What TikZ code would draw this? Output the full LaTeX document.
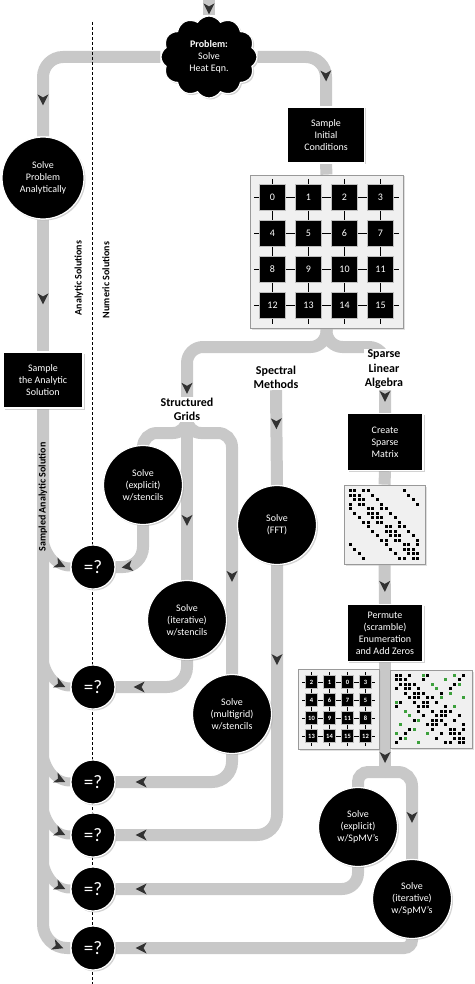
\documentclass[tikz,border=0pt]{standalone}
\usepackage{fontspec}
\setmainfont{Carlito}
\usetikzlibrary{shapes.symbols,shadows,backgrounds,decorations.markings}
\definecolor{bandgray}{RGB}{200,200,200}
\definecolor{tipgray}{RGB}{50,50,50}
\definecolor{panelgray}{RGB}{240,240,240}
\definecolor{dotgreen}{RGB}{60,160,60}
\tikzset{
  band/.style={draw=bandgray, line width=12pt},
  branch/.style={draw=bandgray, line width=9pt},
  arrowat/.style={postaction={decorate,decoration={markings,
      mark=at position #1 with {\fill[tipgray, sharp corners] (-6pt,5.5pt) -- (5pt,0pt) -- (-6pt,-5.5pt) -- (-3pt,0pt) -- cycle;}}}},
  blk/.style={fill=black, draw=white, line width=1.2pt, text=white, align=center,
      font=\fontsize{10}{12}\selectfont, inner sep=0pt,
      drop shadow={shadow xshift=1.5pt, shadow yshift=-1.5pt, fill=black!35}},
  box/.style={blk, rectangle, minimum width=77pt, minimum height=56pt},
  solve/.style={blk, circle, minimum size=79pt},
  check/.style={blk, circle, minimum size=44pt, font=\fontsize{19}{20}\selectfont},
  lbl/.style={fill=white, align=center, inner sep=1pt, font=\fontsize{12}{14.5}\selectfont\bfseries},
  panel/.style={rectangle, fill=panelgray, draw=black!40, line width=0.8pt, inner sep=0pt,
      drop shadow={shadow xshift=1.5pt, shadow yshift=-1.5pt, fill=black!25}},
  cell/.style={rectangle, fill=black, draw=black!25, line width=0.6pt, text=white, inner sep=0pt}
}
% sparsity pattern of the periodic 4x4 stencil, rows/cols renumbered by #4
\newcommand{\spdots}[4]{%
  \foreach \a in {0,...,15}{
    \foreach \b in {0,...,15}{
      \pgfmathtruncatemacro\ia{{#4}[\a]}
      \pgfmathtruncatemacro\ib{{#4}[\b]}
      \pgfmathtruncatemacro\dr{mod(div(\ia,4)-div(\ib,4)+4,4)}
      \pgfmathtruncatemacro\dc{mod(mod(\ia,4)-mod(\ib,4)+4,4)}
      \pgfmathtruncatemacro\nz{((\dr==0)&&(\dc!=2))||((\dc==0)&&(\dr!=2))}
      \ifnum\nz=1 \fill (#1+#3*\b,#2+#3*\a) rectangle ++(#3*0.75,#3*0.75); \fi
    }}}
\begin{document}
\begin{tikzpicture}[x=1pt,y=-1pt]
\useasboundingbox (0,0) rectangle (474,984);

% problem and the analytic side
\node[blk, cloud, cloud puffs=12, cloud puff arc=115, aspect=1.1,
  minimum width=96pt, minimum height=82pt] (prob) at (209,57) {\textbf{Problem:}\\Solve\\Heat Eqn.};
\node[solve, minimum size=82pt] (ana) at (43,178) {Solve\\Problem\\Analytically};
\node[box, minimum width=80pt] (sas) at (43,380) {Sample\\the Analytic\\Solution};
\node[rotate=90, font=\fontsize{10}{12}\selectfont\bfseries] (sasl) at (43,497) {Sampled Analytic Solution};
\node[rotate=90, font=\fontsize{10}{12}\selectfont\bfseries] (anal) at (79,278) {Analytic Solutions};
\node[rotate=90, font=\fontsize{10}{12}\selectfont\bfseries] (numl) at (106,280) {Numeric Solutions};

% initial conditions on the grid
\node[box] (sic) at (326,135) {Sample\\Initial\\Conditions};
\node[panel, minimum size=153pt] (gp) at (326.5,251.5) {};
\foreach \i in {0,...,3}{
  \draw[line width=1.2pt] (254,197.5+36*\i) -- (399,197.5+36*\i);
  \draw[line width=1.2pt] (272.5+36*\i,179) -- (272.5+36*\i,324);
}
\foreach \n in {0,...,15}{
  \pgfmathtruncatemacro\row{div(\n,4)}
  \pgfmathtruncatemacro\col{mod(\n,4)}
  \node[cell, minimum size=26pt, font=\fontsize{10}{12}\selectfont] (c\n) at (272.5+36*\col,197.5+36*\row) {\n};
}

% three families of methods
\node[lbl] (sg) at (187,409.5) {Structured\\Grids};
\node[lbl] (sm) at (276,377.5) {Spectral\\Methods};
\node[lbl] (sla) at (384,369.5) {Sparse\\Linear\\Algebra};
\node[solve] (ex) at (143,485) {Solve\\(explicit)\\w/stencils};
\node[solve] (it) at (187,620) {Solve\\(iterative)\\w/stencils};
\node[solve] (mg) at (232,714) {Solve\\(multigrid)\\w/stencils};
\node[solve] (fft) at (277,525) {Solve\\(FFT)};

% sparse matrix branch
\node[box, minimum width=76pt, minimum height=57pt] (csm) at (385,442) {Create\\Sparse\\Matrix};
\node[panel, minimum width=81pt, minimum height=79pt] (spm) at (384.5,524.5) {};
\spdots{348.5}{489}{4.5}{0,1,2,3,4,5,6,7,8,9,10,11,12,13,14,15}
\node[box, minimum width=76pt, minimum height=57pt] (pez) at (385,633) {Permute\\(scramble)\\Enumeration\\and Add Zeros};
\node[panel, minimum width=81pt, minimum height=80pt] (pg) at (338.5,709) {};
\foreach \i in {0,...,3}{
  \draw[line width=0.8pt] (302,682+18*\i) -- (375,682+18*\i);
  \draw[line width=0.8pt] (311.5+18*\i,672) -- (311.5+18*\i,746);
}
\foreach \lab [count=\k from 0] in {2,1,0,3,4,6,7,5,10,9,11,8,13,14,15,12}{
  \pgfmathtruncatemacro\row{div(\k,4)}
  \pgfmathtruncatemacro\col{mod(\k,4)}
  \node[cell, minimum size=12.5pt, font=\fontsize{6.5}{7}\selectfont\bfseries] (p\k) at (311.5+18*\col,682+18*\row) {\lab};
}
\node[panel, minimum width=82pt, minimum height=78pt] (pspm) at (431,709) {};
\spdots{394.5}{673.5}{4.5}{2,1,0,3,4,7,5,6,11,9,8,10,15,12,13,14}
\foreach \a/\b in {0/6,6/0,1/11,11/1,2/14,14/2,3/9,9/3,4/12,12/4,5/15,15/5,7/13,13/7,8/2,2/8,10/5,5/10,0/13,13/0}
  \fill[dotgreen] (394.5+4.5*\b,673.5+4.5*\a) rectangle ++(3.4,3.4);
\node[solve] (exs) at (358,827) {Solve\\(explicit)\\w/SpMV's};
\node[solve] (its) at (412,899) {Solve\\(iterative)\\w/SpMV's};

% comparisons
\foreach \y [count=\k] in {567,687,782,835,889,948}
  \node[check] (eq\k) at (93,\y) {=?};

\coordinate (top) at (209,0);
\coordinate (gsplit) at (326.5,347);
\coordinate (ssplit) at (187,433);
\coordinate (psplit) at (385,772);
\coordinate (dtop) at (92,22);
\coordinate (dbot) at (92,984);

\begin{pgfonlayer}{background}
\draw[band,arrowat=-6pt] (top) -- (prob.north);
\draw[band,rounded corners=20pt,arrowat=-36pt] (prob.west) -| (ana.north);
\draw[band,rounded corners=20pt,arrowat=-30pt] (prob.east) -| (sic.north);
\draw[band] (sic.south) -- (gp.north);
\draw[band,arrowat=-52pt] (ana.south) -- (sas.north);
\draw[band,rounded corners=24pt,arrowat=-12pt] (sas.south) |- (eq6.west);
\foreach \k in {1,...,5}
  \draw[branch,arrowat=-10pt] (eq\k.west) ++(-28,-40) to[out=-90,in=180] (eq\k.west);

\draw[band,rounded corners=16pt,arrowat=-8pt] (gp.south) -- (gsplit) -| (sg.north);
\draw[band,rounded corners=16pt,arrowat=-16pt] (gp.south) -- (gsplit) -| (csm.north);
\draw[band,arrowat=34pt] (sm.south) -- (fft.north);
\draw[band,rounded corners=14pt] (sg.south) -- (ssplit) -| (ex.north);
\draw[band,rounded corners=14pt,arrowat=-97pt] (sg.south) -- (ssplit) -| (mg.north);
\draw[band,arrowat=-59pt] (sg.south) -- (it.north);

\draw[band,rounded corners=20pt,arrowat=-11pt] (ex.south) |- (eq1.east);
\draw[band,rounded corners=20pt,arrowat=-23pt] (it.south) |- (eq2.east);
\draw[band,rounded corners=20pt,arrowat=-25pt] (mg.south) |- (eq3.east);
\draw[band,rounded corners=20pt,arrowat=95pt,arrowat=-25pt] (fft.south) |- (eq4.east);

\draw[band] (csm.south) -- (spm.north);
\draw[band,arrowat=-17pt] (spm.south) -- (pez.north);
\draw[band,arrowat=-14pt] (pez.south) -- (psplit);
\draw[band,rounded corners=10pt] (exs.north) |- (psplit);
\draw[band,rounded corners=14pt,arrowat=-41pt] (psplit) -| (its.north);
\draw[band,rounded corners=16pt,arrowat=-25pt] (exs.south) |- (eq5.east);
\draw[band,rounded corners=8pt,arrowat=-25pt] (its.south) |- (eq6.east);

\draw[dash pattern=on 3pt off 2pt, line width=0.6pt] (dtop) -- (dbot);
\end{pgfonlayer}
\end{tikzpicture}
\end{document}
